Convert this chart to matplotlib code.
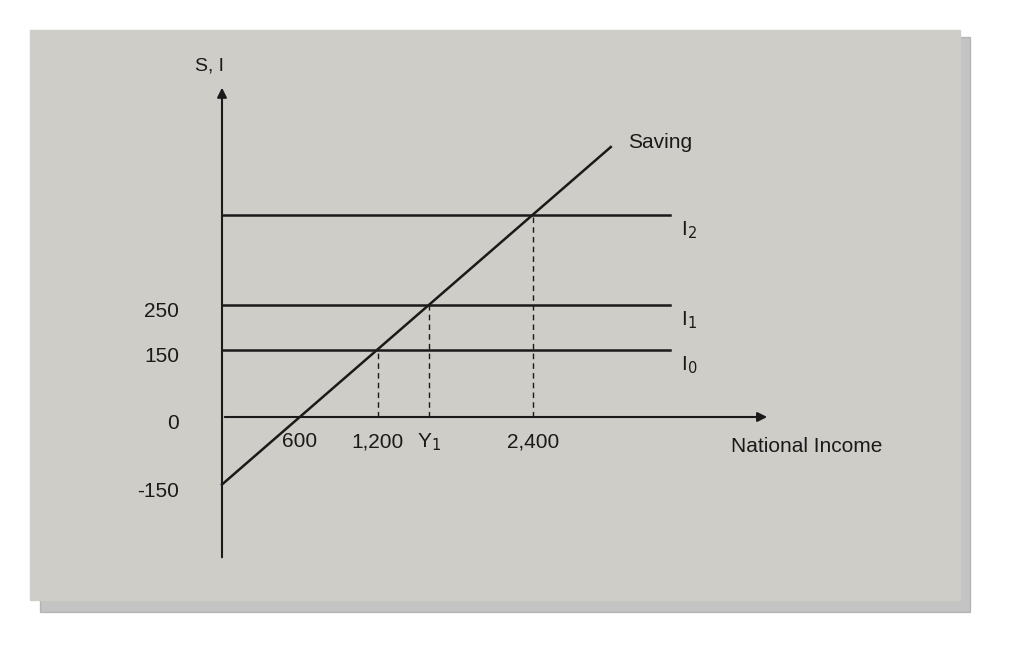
import matplotlib.pyplot as plt
from matplotlib.patches import Rectangle

# data (textbook saving / investment diagram)
income = [0, 3000]
saving = [-150, 600]
invest_levels = [150, 250, 450]
invest_labels = ["I$_0$", "I$_1$", "I$_2$"]
equilibria = [1200, 1600, 2400]
x_ticks = [600, 1200, 1600, 2400]
x_tick_labels = ["600", "1,200", "Y$_1$", "2,400"]
y_ticks = [250, 150, 0, -150]
line_end = 3460

# pixel mapping: x = 222 + Y*0.1296, y(top) = 417 - S*0.45
kx, ky = 0.1296, 0.45
xlim = (-222 / kx, (1024 - 222) / kx)
ylim = (-(664 - 417) / ky, 417 / ky)

plt.rcParams["font.family"] = ["Liberation Sans", "DejaVu Sans"]
fig = plt.figure(figsize=(10.24, 6.64), dpi=100)
fig.patch.set_facecolor("white")

ax = fig.add_axes([0, 0, 1, 1])
ax.set_xlim(*xlim)
ax.set_ylim(*ylim)
ax.axis("off")

# shadow and paper panel
ax.add_patch(Rectangle((40 / 1024, 1 - 612 / 664), 930 / 1024, 575 / 664,
                       transform=fig.transFigure, color="#8a8a8a", alpha=0.5, zorder=0))
ax.add_patch(Rectangle((30 / 1024, 1 - 600 / 664), 930 / 1024, 570 / 664,
                       transform=fig.transFigure, color="#cfcdc8", zorder=0.5))

ink = "#1a1a1a"
# axes with arrows
ax.annotate("", xy=(0, 738), xytext=(0, -318),
            arrowprops=dict(arrowstyle="-|>", color=ink, lw=1.5, mutation_scale=14))
ax.annotate("", xy=(4228, 0), xytext=(0, 0),
            arrowprops=dict(arrowstyle="-|>", color=ink, lw=1.5, mutation_scale=14))

ax.plot(income, saving, color=ink, lw=1.8, zorder=3)
for lvl, lab in zip(invest_levels, invest_labels):
    ax.plot([0, line_end], [lvl, lvl], color=ink, lw=1.8, zorder=3)
    ax.text(line_end + 80, lvl - 35, lab, fontsize=15, color=ink, va="center")
for y, lvl in zip(equilibria, invest_levels):
    ax.plot([y, y], [0, lvl], color=ink, lw=1, ls=(0, (4, 3)), zorder=3)

for xt, lab in zip(x_ticks, x_tick_labels):
    ax.text(xt, -55, lab, fontsize=15, color=ink, ha="center", va="center")
for yt in y_ticks:
    ax.text(-330, yt - 15, str(yt), fontsize=15, color=ink, ha="right", va="center")

ax.text(-100, 780, "S, I", fontsize=14, color=ink, ha="center", va="center")
ax.text(3130, 610, "Saving", fontsize=15, color=ink, va="center")
ax.text(3930, -65, "National Income", fontsize=15, color=ink, va="center")

fig.savefig("out.png", dpi=100)
